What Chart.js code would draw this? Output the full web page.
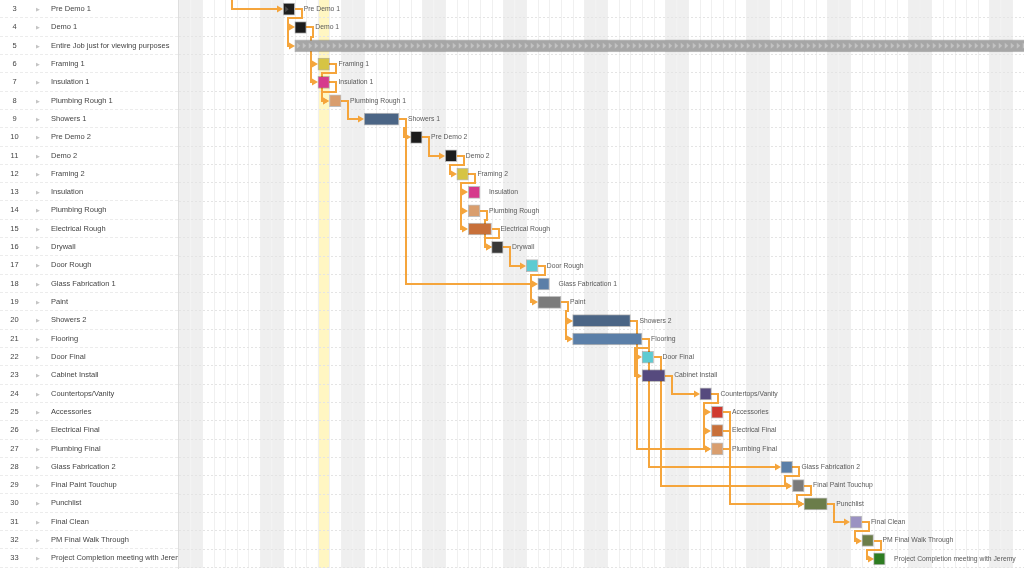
<!DOCTYPE HTML>
<html lang="en">
<head>
    <meta charset="UTF-8">
    <title>Gantt</title>
    <style>
        body {
            margin: 0;
            width: 1024px;
            height: 569px;
            overflow: hidden;
            background: #fff;
            font-family: "Liberation Sans", Arial, sans-serif;
            -webkit-font-smoothing: antialiased;
        }
        #grid {
            position: absolute;
            left: 0;
            top: 0;
            width: 178px;
            height: 569px;
            border-right: 1px solid #dedede;
            overflow: hidden;
            will-change: transform;
            opacity: 0.999;
        }
        .row {
            position: relative;
            height: 18.32px;
            border-bottom: 1px dashed #ececec;
            box-sizing: border-box;
            font-size: 7.5px;
            color: #454545;
        }
        .row span {
            position: absolute;
            top: 0;
            line-height: 18.32px;
            white-space: nowrap;
        }
        .num { left: 0; width: 29px; text-align: center; }
        .tri { left: 36px; color: #c4c4c4; font-size: 5px; }
        .name { left: 51px; }
        #chart-box {
            position: absolute;
            left: 179px;
            top: 0;
            width: 845px;
            height: 568px;
        }
    </style>
</head>
<body>
    <div id="grid"></div>
    <div id="chart-box">
        <canvas id="chart" width="845" height="568"></canvas>
    </div>

    <script src="https://cdn.jsdelivr.net/npm/chart.js"></script>
    <script>
        // rows (ID column) and task names
        const rowIds = [3, 4, 5, 6, 7, 8, 9, 10, 11, 12, 13, 14, 15, 16, 17, 18, 19, 20,
                        21, 22, 23, 24, 25, 26, 27, 28, 29, 30, 31, 32, 33];
        const taskNames = [
            "Pre Demo 1", "Demo 1", "Entire Job just for viewing purposes", "Framing 1",
            "Insulation 1", "Plumbing Rough 1", "Showers 1", "Pre Demo 2", "Demo 2",
            "Framing 2", "Insulation", "Plumbing Rough", "Electrical Rough", "Drywall",
            "Door Rough", "Glass Fabrication 1", "Paint", "Showers 2", "Flooring",
            "Door Final", "Cabinet Install", "Countertops/Vanity", "Accessories",
            "Electrical Final", "Plumbing Final", "Glass Fabrication 2", "Final Paint Touchup",
            "Punchlist", "Final Clean", "PM Final Walk Through",
            "Project Completion meeting with Jeremy"
        ];
        // start / end in days from the first visible column
        const taskStart = [9, 10, 10, 12, 12, 13, 16, 20, 23, 24, 25, 25, 25, 27, 30, 31, 31,
                           34, 34, 40, 40, 45, 46, 46, 46, 52, 53, 54, 58, 59, 60];
        const taskEnd = [10, 11, 80, 13, 13, 14, 19, 21, 24, 25, 26, 26, 27, 28, 31, 32, 33,
                         39, 40, 41, 42, 46, 47, 47, 47, 53, 54, 56, 59, 60, 61];
        const taskColors = [
            "#1f1f1f", "#1c1c1c", "#a6a6a6", "#d6c444", "#d63a8c", "#d99e6e", "#4b6585",
            "#1c1c1c", "#1c1c1c", "#d6c444", "#d63a8c", "#d99e6e", "#c8703a", "#383838",
            "#5ecbd2", "#5b7fa8", "#7b7b7b", "#4b6585", "#5b7fa8", "#5ecbd2", "#564a7e",
            "#564a7e", "#d03a2e", "#c8703a", "#d99e6e", "#5b7fa8", "#7b7b7b", "#6b7d4a",
            "#9b92c2", "#6b7d4a", "#2e7d22"
        ];
        // rows drawn with the chevron texture
        const stripedRows = [3, 5];

        // dependencies (from row -> to row)
        const links = [
            [3, 4], [3, 5], [4, 6], [4, 7], [6, 8], [7, 8], [8, 9], [9, 10], [9, 18],
            [10, 11], [11, 12], [12, 13], [12, 14], [12, 15], [14, 16], [15, 16], [16, 17],
            [17, 19], [19, 20], [19, 21], [20, 27], [21, 22], [21, 23], [21, 28], [22, 29],
            [23, 24], [24, 25], [24, 26], [24, 27], [25, 30], [26, 30], [27, 30], [28, 29],
            [29, 30], [30, 31], [31, 32], [32, 33]
        ];
        // task on row 2 (scrolled out of view) that leads into Pre Demo 1
        const prevTaskEnd = 4;
        const todayDay = 12;
        const totalDays = 73;

        // left grid
        const grid = document.getElementById("grid");
        rowIds.forEach((id, i) => {
            const row = document.createElement("div");
            row.className = "row";
            row.innerHTML = `<span class="num">${id}</span><span class="tri">&#9654;</span><span class="name">${taskNames[i]}</span>`;
            grid.appendChild(row);
        });

        const linkColor = "#f5a53c";
        const off = 7;

        // weekends, day lines, row lines, today column, links
        const backgroundLayer = {
            id: "backgroundLayer",
            beforeDatasetsDraw(chart) {
                const { ctx, chartArea: a, scales: { x, y } } = chart;
                const rowH = y.getPixelForValue(1) - y.getPixelForValue(0);
                ctx.save();
                for (let d = 0; d <= totalDays; d++) {
                    const px = x.getPixelForValue(d);
                    const w = x.getPixelForValue(d + 1) - px;
                    if (d % 7 === 0 || d % 7 === 1) {
                        ctx.fillStyle = "#efefef";
                        ctx.fillRect(px, a.top, w, a.bottom - a.top);
                    }
                    if (d === todayDay) {
                        ctx.fillStyle = "#fff6c2";
                        ctx.fillRect(px, a.top, w, a.bottom - a.top);
                    }
                }
                ctx.strokeStyle = "#f0f0f0";
                ctx.lineWidth = 1;
                for (let d = 0; d <= totalDays; d++) {
                    const px = Math.round(x.getPixelForValue(d)) + 0.5;
                    ctx.beginPath();
                    ctx.moveTo(px, a.top);
                    ctx.lineTo(px, a.bottom);
                    ctx.stroke();
                }
                ctx.strokeStyle = "#e4e4e4";
                ctx.setLineDash([2, 2]);
                for (let i = 0; i < rowIds.length; i++) {
                    const py = Math.round(y.getPixelForValue(i) + rowH / 2) - 0.5;
                    ctx.beginPath();
                    ctx.moveTo(a.left, py);
                    ctx.lineTo(a.right, py);
                    ctx.stroke();
                }
                ctx.setLineDash([]);

                // dependency links
                const segs = links.map(([from, to]) => {
                    const i = rowIds.indexOf(from), j = rowIds.indexOf(to);
                    return {
                        xs: x.getPixelForValue(taskEnd[i]), ys: y.getPixelForValue(i),
                        xt: x.getPixelForValue(taskStart[j]), yt: y.getPixelForValue(j)
                    };
                });
                segs.push({
                    xs: x.getPixelForValue(prevTaskEnd), ys: y.getPixelForValue(-1),
                    xt: x.getPixelForValue(taskStart[0]), yt: y.getPixelForValue(0)
                });
                ctx.strokeStyle = linkColor;
                ctx.fillStyle = linkColor;
                ctx.lineWidth = 2;
                ctx.lineJoin = "miter";
                segs.forEach(s => {
                    const r = v => Math.round(v);
                    const x1 = s.xs + off, x2 = s.xt - off;
                    const pts = [[s.xs, s.ys], [x1, s.ys]];
                    if (x2 >= x1) {
                        pts.push([x1, s.yt]);
                    } else {
                        const yb = s.ys + rowH / 2;
                        pts.push([x1, yb], [x2, yb], [x2, s.yt]);
                    }
                    pts.push([s.xt - 5, s.yt]);
                    ctx.beginPath();
                    pts.forEach((p, k) => {
                        if (k === 0) ctx.moveTo(r(p[0]), r(p[1]));
                        else ctx.lineTo(r(p[0]), r(p[1]));
                    });
                    ctx.stroke();
                    ctx.beginPath();
                    ctx.moveTo(r(s.xt), r(s.yt));
                    ctx.lineTo(r(s.xt) - 6, r(s.yt) - 3.5);
                    ctx.lineTo(r(s.xt) - 6, r(s.yt) + 3.5);
                    ctx.closePath();
                    ctx.fill();
                });
                ctx.restore();
            }
        };

        // chevron texture and task labels
        const labelLayer = {
            id: "labelLayer",
            afterDatasetsDraw(chart) {
                const { ctx, chartArea: a } = chart;
                const meta = chart.getDatasetMeta(0);
                ctx.save();
                ctx.beginPath();
                ctx.rect(a.left, a.top, a.right - a.left, a.bottom - a.top);
                ctx.clip();
                meta.data.forEach((el, i) => {
                    if (stripedRows.includes(rowIds[i])) {
                        ctx.fillStyle = i === 0 ? "#4a4a4a" : "#c2c2c2";
                        for (let px = el.base + 2; px + 3 < el.x - 1; px += 6) {
                            ctx.beginPath();
                            ctx.moveTo(px, el.y - 3);
                            ctx.lineTo(px + 3.5, el.y);
                            ctx.lineTo(px, el.y + 3);
                            ctx.closePath();
                            ctx.fill();
                        }
                    }
                    const lx = el.x + 9;
                    if (lx < a.right) {
                        ctx.fillStyle = "#5a5a5a";
                        ctx.font = '6.8px "Liberation Sans", Arial, sans-serif';
                        ctx.textBaseline = "middle";
                        ctx.fillText(taskNames[i], lx, el.y);
                    }
                });
                ctx.restore();
            }
        };

        new Chart(document.getElementById("chart").getContext("2d"), {
            type: "bar",
            data: {
                labels: taskNames,
                datasets: [{
                    data: taskStart.map((s, i) => [s, taskEnd[i]]),
                    backgroundColor: taskColors,
                    borderColor: "rgba(0, 0, 0, 0.25)",
                    borderWidth: 1,
                    borderSkipped: false,
                    barThickness: 12
                }]
            },
            options: {
                indexAxis: "y",
                responsive: false,
                animation: false,
                layout: { padding: 0 },
                scales: {
                    x: { type: "linear", min: 0, max: totalDays, display: false },
                    y: { display: false, offset: true }
                },
                plugins: {
                    legend: { display: false },
                    tooltip: { enabled: false }
                }
            },
            plugins: [backgroundLayer, labelLayer]
        });
    </script>
</body>
</html>
